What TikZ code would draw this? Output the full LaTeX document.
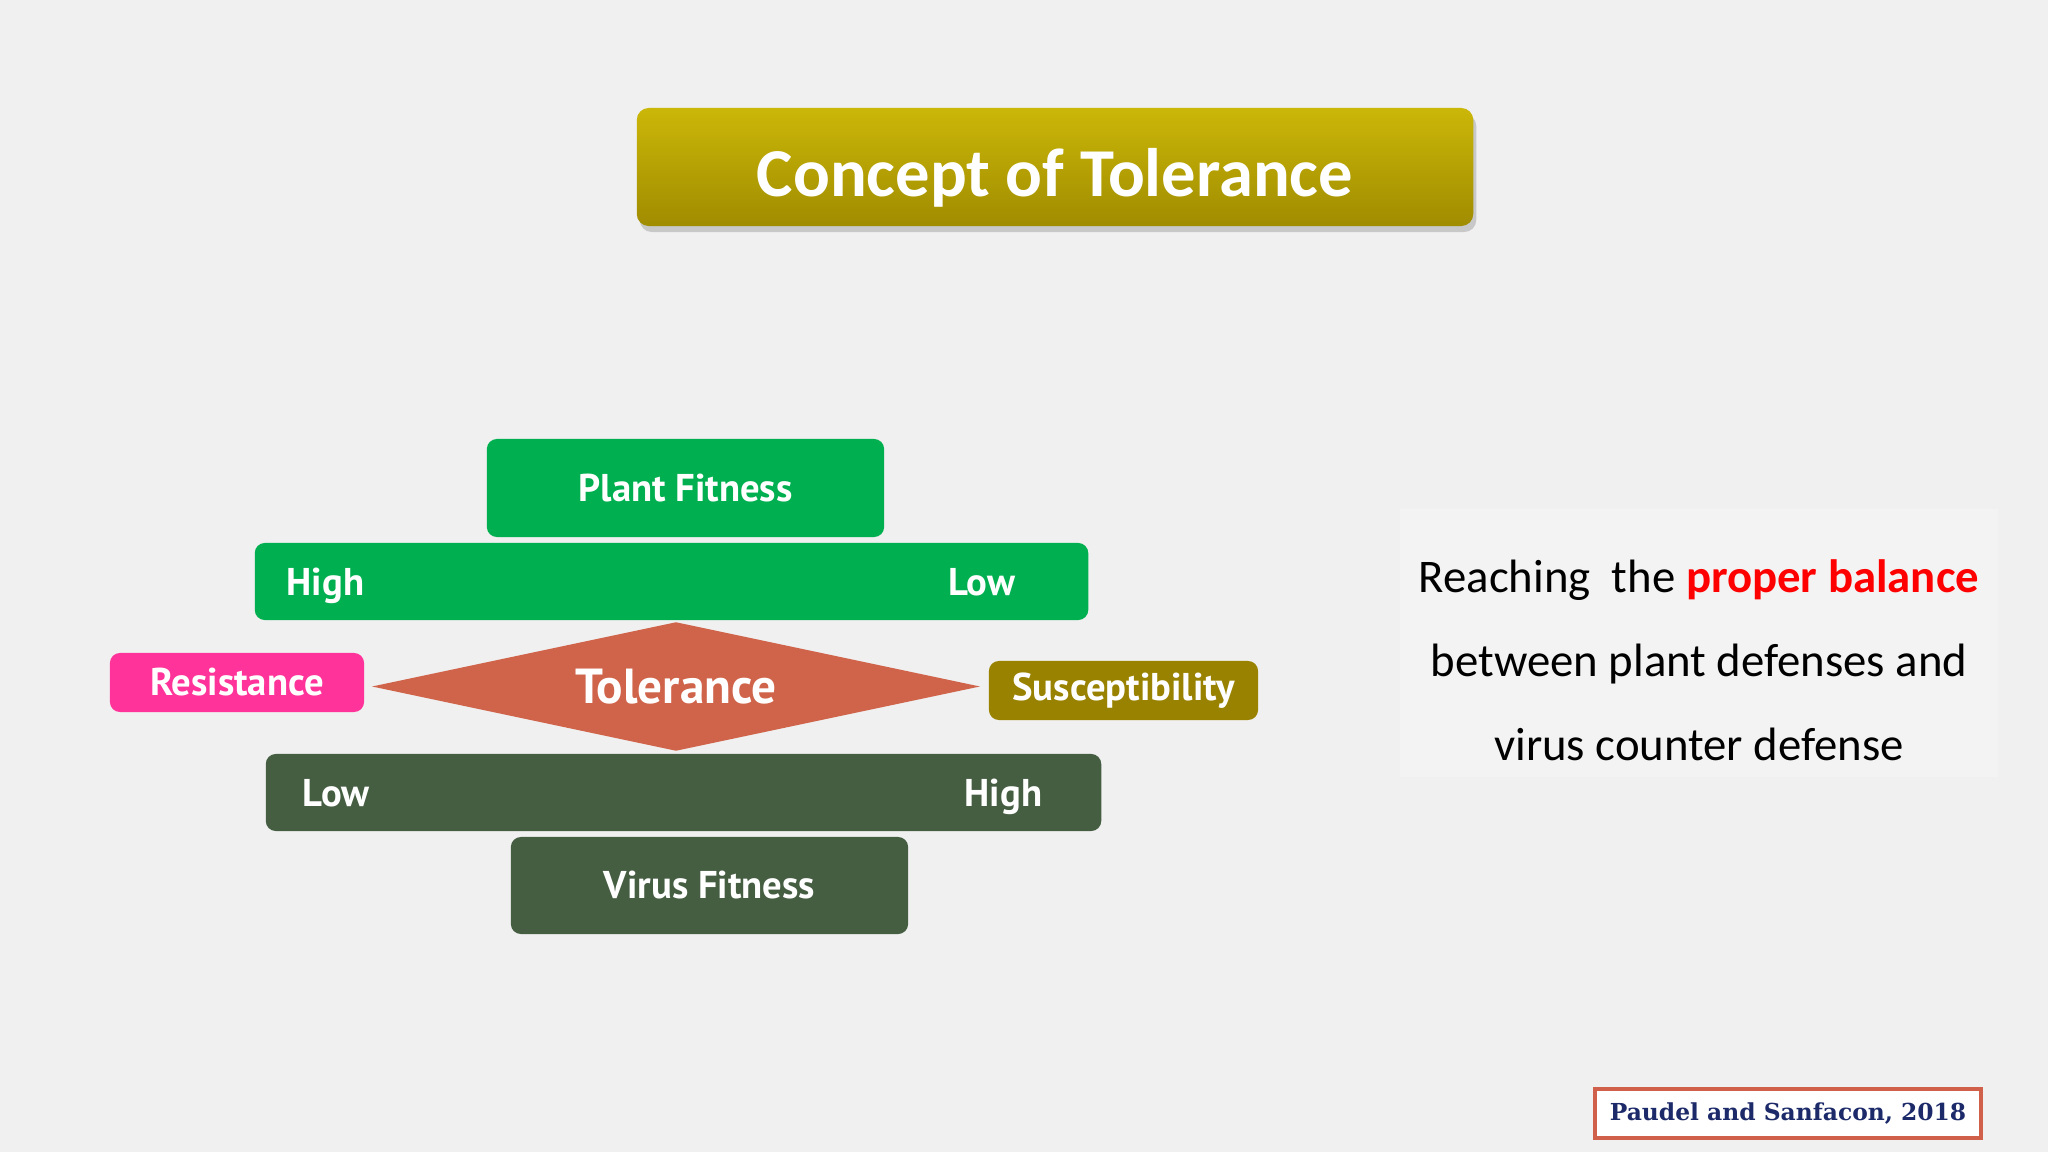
\documentclass[tikz,border=0pt]{standalone}
\usepackage{fontspec}
\setmainfont{Carlito}
\newfontfamily\boxfont{PT Sans}
\newfontfamily\citefont{DejaVu Serif}
\usetikzlibrary{positioning, shapes.geometric, shadows}

\definecolor{slidebg}{RGB}{240,240,240}
\definecolor{plantgreen}{RGB}{0,176,80}
\definecolor{virusgreen}{RGB}{69,94,66}
\definecolor{tolorange}{RGB}{208,100,74}
\definecolor{respink}{RGB}{255,51,153}
\definecolor{susolive}{RGB}{153,130,0}
\definecolor{titletop}{RGB}{203,183,8}
\definecolor{titlebottom}{RGB}{160,140,0}
\definecolor{msggray}{RGB}{243,243,243}
\definecolor{citenavy}{RGB}{28,42,106}
\definecolor{citeborder}{RGB}{208,96,74}

\tikzset{
  fitbox/.style={rectangle, rounded corners=0.1cm, inner sep=0pt, text=white,
    font=\boxfont\bfseries\fontsize{11}{13}\selectfont},
  barlabel/.style={inner sep=0pt, text=white, text height=1.0em, text depth=0.23em,
    font=\boxfont\bfseries\fontsize{11}{13}\selectfont},
}

\begin{document}
\begin{tikzpicture}[x=0.01cm, y=-0.01cm]
  \useasboundingbox[fill=slidebg] (0,0) rectangle (2048,1152);

  % title
  \node[rectangle, rounded corners=0.12cm, top color=titletop, bottom color=titlebottom,
    minimum width=8.36cm, minimum height=1.18cm,
    drop shadow={opacity=0.35, shadow xshift=0.03cm, shadow yshift=-0.06cm}]
    (title) at (1055,167) {};
  \node[text=white, inner sep=0pt, font=\bfseries\fontsize{19.5}{23}\selectfont]
    (titletext) at (1055,178) {Concept of Tolerance};

  % fitness scale
  \node[fitbox, fill=plantgreen, minimum width=3.97cm, minimum height=0.98cm]
    (plant) at (685.5,488) {Plant Fitness};
  \node[fitbox, fill=plantgreen, minimum width=8.33cm, minimum height=0.77cm]
    (plantbar) at (671.5,581.5) {};
  \node[barlabel, right=0.32cm of plantbar.west] (plantHigh) {High};
  \node[barlabel, left=0.73cm of plantbar.east] (plantLow) {Low};

  \node[diamond, fill=tolorange, inner sep=0pt, aspect=4.7,
    minimum width=6.08cm, minimum height=1.29cm, text=white,
    font=\boxfont\bfseries\fontsize{14}{16}\selectfont]
    (tol) at (676,686.5) {Tolerance};
  \node[fitbox, fill=respink, minimum width=2.54cm, minimum height=0.59cm]
    (res) at (237,682.5) {Resistance};
  \node[fitbox, fill=susolive, minimum width=2.69cm, minimum height=0.59cm]
    (sus) at (1123.5,690.5) {Susceptibility};

  \node[fitbox, fill=virusgreen, minimum width=8.35cm, minimum height=0.77cm]
    (virusbar) at (683.5,792.5) {};
  \node[barlabel, right=0.37cm of virusbar.west] (virusLow) {Low};
  \node[barlabel, left=0.59cm of virusbar.east] (virusHigh) {High};
  \node[fitbox, fill=virusgreen, minimum width=3.97cm, minimum height=0.97cm]
    (virus) at (709.5,885.5) {Virus Fitness};

  % message
  \node[rectangle, fill=msggray, minimum width=5.98cm, minimum height=2.68cm]
    (msg) at (1699,643) {};
  \node[align=center, inner sep=0pt, font=\fontsize{13.3}{23.9}\selectfont]
    (msgtext) at (1699,660)
    {Reaching\ \ the \textcolor{red}{\bfseries proper balance}\\
     between plant defenses and\\
     virus counter defense};

  % reference
  \node[rectangle, draw=citeborder, line width=1.2pt, fill=white,
    minimum width=3.86cm, minimum height=0.49cm, text=citenavy,
    font=\citefont\bfseries\fontsize{6.65}{8}\selectfont]
    (cite) at (1788,1113.5) {Paudel and Sanfacon, 2018};
\end{tikzpicture}
\end{document}
